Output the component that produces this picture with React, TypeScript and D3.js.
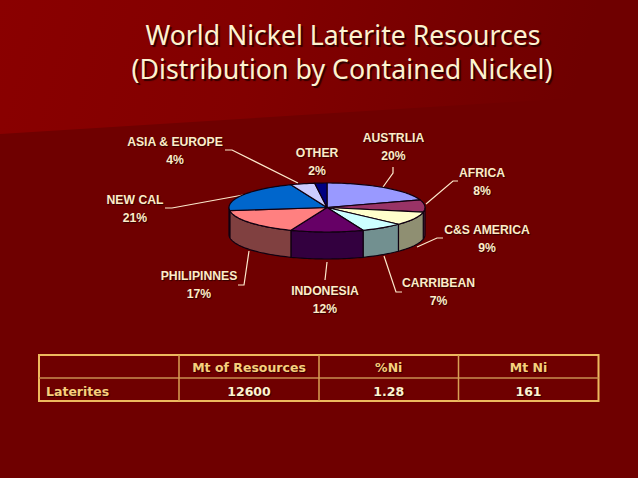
import React from "react";
import * as d3 from "d3";

const categories = ["AUSTRLIA", "AFRICA", "C&S AMERICA", "CARRIBEAN", "INDONESIA", "PHILIPINNES", "NEW CAL", "ASIA & EUROPE", "OTHER"];
const shares = [20, 8, 9, 7, 12, 17, 21, 4, 2];
const topColors = ["#9999ff", "#993366", "#ffffcc", "#ccffff", "#660066", "#ff8080", "#0066cc", "#ccccff", "#000080"];
const sideColors = ["#6b6bb3", "#6b2447", "#8f8f72", "#729090", "#33003f", "#804040", "#003d7a", "#8080a0", "#000050"];
const tableHeaders = ["", "Mt of Resources", "%Ni", "Mt Ni"];
const tableRow = ["Laterites", "12600", "1.28", "161"];

// label layout: text centre, first baseline, leader polyline from the label to the slice
const labelLayout = [
  { x: 393.5, y: 142, pts: [[393, 167], [393, 173], [383, 187]] },
  { x: 482, y: 177, pts: [[458, 181], [453, 181], [426, 204]] },
  { x: 487, y: 234, pts: [[443, 238], [437, 238], [417, 247]] },
  { x: 438.5, y: 287, pts: [[402, 292], [396, 292], [384, 256]] },
  { x: 325, y: 295, pts: [[325, 280], [327, 262]] },
  { x: 199, y: 280, pts: [[238, 285], [244, 285], [249, 251]] },
  { x: 135, y: 204, pts: [[165, 208], [172, 208], [243, 195]] },
  { x: 175, y: 146, pts: [[225, 150], [232, 150], [298, 183]] },
  { x: 317, y: 157, pts: [] as number[][] },
];

const cx = 327, cy = 207.5, rx = 98, ry = 24.5, depth = 27;
const W = 638, H = 478;

const pt = (a: number, dy = 0) => [cx + rx * Math.sin(a), cy - ry * Math.cos(a) + dy];

function arcPath(a0: number, a1: number, dy = 0, move = true) {
  const steps = Math.max(2, Math.ceil((a1 - a0) / 0.03));
  const s = d3.range(steps + 1).map((i) => pt(a0 + ((a1 - a0) * i) / steps, dy));
  return (move ? "M" : "L") + s.map((p) => p.map((v) => v.toFixed(2)).join(",")).join("L");
}
function arcPathRev(a0: number, a1: number, dy: number) {
  const steps = Math.max(2, Math.ceil((a1 - a0) / 0.03));
  const s = d3.range(steps + 1).map((i) => pt(a1 - ((a1 - a0) * i) / steps, dy));
  return "L" + s.map((p) => p.map((v) => v.toFixed(2)).join(",")).join("L");
}

const arcs = d3.pie<number>().sort(null).value((d) => d)(shares);

const tableX = d3.scaleOrdinal<number, number>().domain([0, 1, 2, 3, 4]).range([39, 179, 319, 458.5, 598.5]);
const tableY = d3.scalePoint<number>().domain([0, 1, 2]).range([355, 401]);

const shadow = "1px 1px 1px rgba(40,0,0,0.9)";
const tableLine = "#edb95e";

export default function App() {
  const lo = Math.PI / 2, hi = (3 * Math.PI) / 2;
  return (
    <svg width={W} height={H} viewBox={`0 0 ${W} ${H}`} style={{ position: "absolute", left: 0, top: 0, display: "block" }}>
      <defs>
        <linearGradient id="bgTop" gradientUnits="userSpaceOnUse" x1={0} y1={0} x2={560} y2={150}>
          <stop offset="0" stopColor="#8a0000" />
          <stop offset="0.45" stopColor="#820000" />
          <stop offset="1" stopColor="#6f0000" />
        </linearGradient>
      </defs>
      <rect width={W} height={H} fill="#6f0000" />
      <path d={`M0,0H${W}V94L0,134Z`} fill="url(#bgTop)" />

      <g fontFamily="'Noto Sans', Tahoma, sans-serif" fontSize={27} fill="#fdf3d0" textAnchor="middle" style={{ textShadow: "2px 2px 1px rgba(40,0,0,0.9)" }}>
        <text x={343} y={44.5} textLength={395} lengthAdjust="spacingAndGlyphs">World Nickel Laterite Resources</text>
        <text x={342} y={79} textLength={421} lengthAdjust="spacingAndGlyphs">(Distribution by Contained Nickel)</text>
      </g>

      {labelLayout.map((l, i) =>
        l.pts.length ? (
          <polyline key={i} points={l.pts.map((p) => p.join(",")).join(" ")} fill="none" stroke="#fde9cc" strokeWidth={1.2} />
        ) : null
      )}

      {/* walls */}
      {arcs.map((d, i) => {
        const a0 = Math.max(d.startAngle, lo), a1 = Math.min(d.endAngle, hi);
        if (a1 <= a0) return null;
        return (
          <path key={i} d={arcPath(a0, a1) + arcPathRev(a0, a1, depth) + "Z"} fill={sideColors[i]} stroke="#100010" strokeWidth={1.2} strokeLinejoin="round" />
        );
      })}
      {/* top slices */}
      {arcs.map((d, i) => (
        <path key={i} d={`M${cx},${cy}` + arcPath(d.startAngle, d.endAngle, 0, false) + "Z"} fill={topColors[i]} stroke="#100010" strokeWidth={1.2} strokeLinejoin="round" />
      ))}

      <g fontFamily="'Liberation Sans', Arial, sans-serif" fontSize={12.2} fontWeight={700} fill="#fdecc8" textAnchor="middle" style={{ textShadow: shadow }}>
        {categories.map((c, i) => (
          <text key={c} x={labelLayout[i].x} y={labelLayout[i].y}>
            <tspan x={labelLayout[i].x}>{c}</tspan>
            <tspan x={labelLayout[i].x} dy={17.5}>{shares[i]}%</tspan>
          </text>
        ))}
      </g>

      {/* table */}
      <g stroke={tableLine} fill="none">
        <rect x={39} y={355} width={559.5} height={46} strokeWidth={2} />
        <line x1={39} x2={598.5} y1={tableY(1)} y2={tableY(1)} strokeWidth={1.5} stroke="#c98e50" />
        {[1, 2, 3].map((i) => (
          <line key={i} x1={tableX(i)} x2={tableX(i)} y1={355} y2={401} strokeWidth={1.5} stroke="#d8a055" />
        ))}
      </g>
      <g fontFamily="'DejaVu Sans', Verdana, sans-serif" fontSize={12.5} fontWeight={700} textAnchor="middle" style={{ textShadow: shadow }}>
        {tableHeaders.map((t, i) =>
          t ? (
            <text key={i} x={(tableX(i) + tableX(i + 1)) / 2} y={372} fill="#f7cf7c">{t}</text>
          ) : null
        )}
        {tableRow.map((t, i) =>
          i === 0 ? (
            <text key={i} x={46} y={395.5} fill="#f7cf7c" textAnchor="start">{t}</text>
          ) : (
            <text key={i} x={(tableX(i) + tableX(i + 1)) / 2} y={395.5} fill="#fdf3d0">{t}</text>
          )
        )}
      </g>
    </svg>
  );
}
